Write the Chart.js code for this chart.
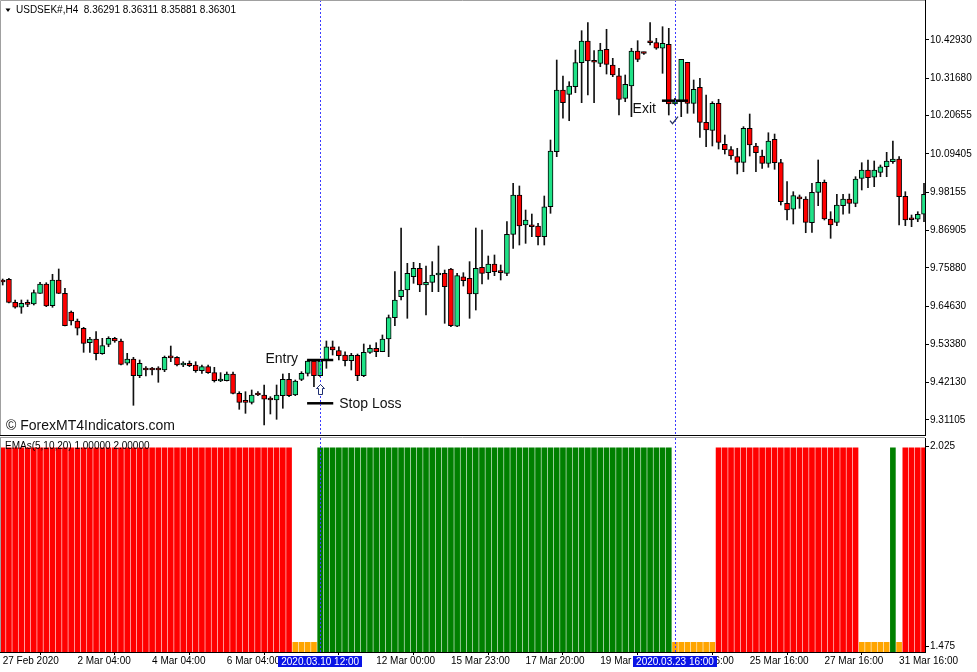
<!DOCTYPE html>
<html>
<head>
<meta charset="utf-8">
<script src="https://cdn.jsdelivr.net/npm/chart.js@4.4.1/dist/chart.umd.min.js"></script>
<style>
html, body { margin: 0; padding: 0; background: #fff; }
#wrap { position: relative; width: 977px; height: 672px; overflow: hidden; }
#main { position: absolute; left: 0; top: 0; }
#ind { position: absolute; left: 0; top: 436px; }
</style>
</head>
<body>
<div id="wrap">
  <canvas id="main" width="977" height="437"></canvas>
  <canvas id="ind" width="977" height="236"></canvas>
</div>
<script>
// USDSEK H4 candles, bar 0 = 27 Feb 2020 00:00
var opens = [
  9.7186, 9.7251, 9.6574, 9.6427, 9.6545, 9.6524, 9.6838, 9.7112, 9.6474, 9.7230,
  9.6838, 9.6289, 9.6024, 9.5809, 9.5385, 9.5494, 9.5061, 9.5338, 9.5514, 9.5435,
  9.4779, 9.4905, 9.4414, 9.4632, 9.4602, 9.4602, 9.4582, 9.4955, 9.4955, 9.4729,
  9.4779, 9.4729, 9.4562, 9.4679, 9.4503, 9.4258, 9.4267, 9.4464, 9.3896, 9.3649,
  9.3631, 9.3896, 9.3846, 9.3708, 9.3699, 9.3826, 9.4308, 9.3846, 9.4308, 9.4484,
  9.4847, 9.4414, 9.4876, 9.5267, 9.5150, 9.5023, 9.4855, 9.5014, 9.4414, 9.5102,
  9.5220, 9.5120, 9.5494, 9.6121, 9.6739, 9.6936, 9.7327, 9.7574, 9.7083, 9.7162,
  9.7377, 9.7427, 9.7554, 9.5868, 9.7327, 9.7280, 9.6818, 9.7604, 9.7445, 9.7701,
  9.7495, 9.7427, 9.8575, 9.9732, 9.8849, 9.8810, 9.8820, 9.8505, 9.9387, 10.1006,
  10.2821, 10.2695, 10.2919, 10.3625, 10.4263, 10.3675, 10.3607, 10.4019, 10.3557, 10.3242,
  10.2577, 10.2939, 10.3969, 10.3910, 10.4225, 10.4214, 10.4049, 10.4166, 10.2410, 10.2477,
  10.3637, 10.2430, 10.2901, 10.1871, 10.1635, 10.2430, 10.1223, 10.1065, 10.0859, 10.0694,
  10.1694, 10.1174, 10.0879, 10.0664, 10.1370, 10.0682, 9.9487, 9.9311, 9.9634, 9.9614,
  9.8916, 9.9811, 10.0105, 9.9026, 9.8928, 9.9417, 9.9614, 9.9487, 10.0223, 10.0467,
  10.0253, 10.0399, 10.0564, 10.0712, 10.0791, 9.9693, 9.9017, 9.9017, 9.9164
];
var highs = [
  9.7259, 9.7280, 9.6642, 9.6642, 9.6642, 9.6936, 9.7162, 9.7151, 9.7398, 9.7554,
  9.6986, 9.6318, 9.6082, 9.5838, 9.5544, 9.5709, 9.5514, 9.5561, 9.5544, 9.5494,
  9.5073, 9.4955, 9.4876, 9.4679, 9.4661, 9.4679, 9.4993, 9.5287, 9.4973, 9.4826,
  9.4847, 9.4826, 9.4729, 9.4729, 9.4661, 9.4503, 9.4523, 9.4523, 9.3943, 9.3943,
  9.3993, 9.3943, 9.4140, 9.3796, 9.4140, 9.4464, 9.4484, 9.4287, 9.4532, 9.4876,
  9.4876, 9.4896, 9.5435, 9.5435, 9.5267, 9.5120, 9.5073, 9.5052, 9.5347, 9.5317,
  9.5385, 9.5612, 9.6200, 9.7476, 9.8760, 9.7721, 9.7751, 9.7721, 9.7642, 9.7770,
  9.8231, 9.7524, 9.7574, 9.7427, 9.7445, 9.7770, 9.8760, 9.8702, 9.7937, 9.7966,
  9.7672, 9.8946, 10.0076, 9.9997, 9.9290, 9.9172, 9.8899, 9.9702, 10.1350, 10.3704,
  10.3234, 10.3066, 10.3999, 10.4567, 10.4802, 10.3978, 10.4196, 10.4608, 10.3754, 10.3460,
  10.3263, 10.4049, 10.4273, 10.3940, 10.4802, 10.4343, 10.4684, 10.4637, 10.2577, 10.3725,
  10.3637, 10.3116, 10.3166, 10.2674, 10.2477, 10.2548, 10.1497, 10.1153, 10.1106, 10.1742,
  10.2115, 10.1253, 10.1056, 10.1564, 10.1526, 10.0782, 10.0123, 9.9829, 9.9732, 9.9682,
  10.0076, 10.0762, 10.0173, 9.9240, 9.9752, 9.9752, 9.9761, 10.0270, 10.0682, 10.0762,
  10.0732, 10.0614, 10.0988, 10.1320, 10.0859, 9.9829, 9.9143, 9.9240, 10.0076
];
var lows = [
  9.7083, 9.6553, 9.6398, 9.6250, 9.6445, 9.6495, 9.6838, 9.6445, 9.6427, 9.6830,
  9.5877, 9.5906, 9.5612, 9.5102, 9.5102, 9.4876, 9.5043, 9.5267, 9.5397, 9.4729,
  9.4729, 9.3543, 9.4355, 9.4405, 9.4435, 9.4220, 9.4532, 9.4826, 9.4700, 9.4679,
  9.4679, 9.4514, 9.4484, 9.4484, 9.4228, 9.4238, 9.4258, 9.3876, 9.3425, 9.3307,
  9.3581, 9.3826, 9.2963, 9.3287, 9.3131, 9.3455, 9.3796, 9.3826, 9.4267, 9.4405,
  9.4091, 9.4385, 9.4632, 9.5023, 9.4876, 9.4700, 9.4582, 9.4267, 9.4385, 9.5073,
  9.4973, 9.5120, 9.4973, 9.5886, 9.6642, 9.6103, 9.7133, 9.6886, 9.6200, 9.6886,
  9.6886, 9.5956, 9.5856, 9.5856, 9.7053, 9.6103, 9.6347, 9.7112, 9.7251, 9.7357,
  9.7230, 9.7357, 9.8163, 9.8260, 9.8309, 9.8505, 9.8260, 9.8260, 9.9193, 10.0859,
  10.1989, 10.1918, 10.2742, 10.2448, 10.2674, 10.2448, 10.3507, 10.3292, 10.3213, 10.2086,
  10.2477, 10.2036, 10.3654, 10.3866, 10.4146, 10.4019, 10.3313, 10.2086, 10.2380, 10.2036,
  10.2136, 10.2136, 10.1429, 10.1153, 10.1174, 10.1085, 10.0938, 10.0782, 10.0350, 10.0417,
  10.0879, 10.0417, 10.0517, 10.0547, 10.0488, 9.9437, 9.8996, 9.8878, 9.9340, 9.8622,
  9.8634, 9.9417, 9.8996, 9.8457, 9.8829, 9.9164, 9.9193, 9.9387, 9.9879, 9.9947,
  9.9976, 10.0270, 10.0270, 10.0664, 9.8849, 9.8829, 9.8799, 9.8946, 9.8946
];
var closes = [
  9.7171, 9.6574, 9.6427, 9.6545, 9.6515, 9.6857, 9.7112, 9.6465, 9.7230, 9.6838,
  9.5886, 9.6024, 9.5809, 9.5367, 9.5494, 9.5061, 9.5297, 9.5514, 9.5435, 9.4749,
  9.4905, 9.4414, 9.4779, 9.4582, 9.4582, 9.4582, 9.4955, 9.4940, 9.4729, 9.4779,
  9.4709, 9.4562, 9.4679, 9.4503, 9.4267, 9.4287, 9.4464, 9.3896, 9.3631, 9.3631,
  9.3846, 9.3846, 9.3720, 9.3699, 9.3846, 9.4308, 9.3826, 9.4258, 9.4484, 9.4847,
  9.4414, 9.4847, 9.5267, 9.5170, 9.5002, 9.4855, 9.5014, 9.4414, 9.5102, 9.5220,
  9.5120, 9.5494, 9.6121, 9.6642, 9.6936, 9.7427, 9.7574, 9.7083, 9.7162, 9.7377,
  9.7427, 9.7033, 9.5886, 9.7357, 9.7210, 9.6818, 9.7574, 9.7427, 9.7701, 9.7475,
  9.7445, 9.8575, 9.9732, 9.8820, 9.8996, 9.8796, 9.8505, 9.9387, 10.1026, 10.2821,
  10.2448, 10.2939, 10.3625, 10.4263, 10.3675, 10.3637, 10.3999, 10.3578, 10.3263, 10.2548,
  10.2989, 10.3969, 10.3725, 10.3896, 10.4211, 10.4049, 10.4196, 10.2410, 10.2477, 10.3725,
  10.2430, 10.2842, 10.1871, 10.1644, 10.2430, 10.1282, 10.1065, 10.0879, 10.0694, 10.1694,
  10.1203, 10.0977, 10.0664, 10.1320, 10.0682, 9.9534, 9.9290, 9.9711, 9.9619, 9.8928,
  9.9811, 10.0105, 9.9026, 9.8849, 9.9437, 9.9614, 9.9487, 10.0202, 10.0467, 10.0241,
  10.0467, 10.0564, 10.0732, 10.0791, 9.9682, 9.8996, 9.9002, 9.9164, 9.9752
];

// EMAs(5,10,20) histogram: trend 1 = up (green), -1 = down (red), 0 = mixed (orange)
var emaTrend = [
  -1,-1,-1,-1,-1,-1,-1,-1,-1,-1, -1,-1,-1,-1,-1,-1,-1,-1,-1,-1,
  -1,-1,-1,-1,-1,-1,-1,-1,-1,-1, -1,-1,-1,-1,-1,-1,-1,-1,-1,-1,
  -1,-1,-1,-1,-1,-1,-1, 0, 0, 0,  0, 1, 1, 1, 1, 1, 1, 1, 1, 1,
   1, 1, 1, 1, 1, 1, 1, 1, 1, 1,  1, 1, 1, 1, 1, 1, 1, 1, 1, 1,
   1, 1, 1, 1, 1, 1, 1, 1, 1, 1,  1, 1, 1, 1, 1, 1, 1, 1, 1, 1,
   1, 1, 1, 1, 1, 1, 1, 1, 0, 0,  0, 0, 0, 0, 0,-1,-1,-1,-1,-1,
  -1,-1,-1,-1,-1,-1,-1,-1,-1,-1, -1,-1,-1,-1,-1,-1,-1,-1, 0, 0,
   0, 0, 0, 1, 0,-1,-1,-1,-1
];
var emaLevel = [
  2,2,2,2,2,2,2,2,2,2, 2,2,2,2,2,2,2,2,2,2,
  2,2,2,2,2,2,2,2,2,2, 2,2,2,2,2,2,2,2,2,2,
  2,2,2,2,2,2,2,1.5,1.5,1.5, 1.5,2,2,2,2,2,2,2,2,2,
  2,2,2,2,2,2,2,2,2,2, 2,2,2,2,2,2,2,2,2,2,
  2,2,2,2,2,2,2,2,2,2, 2,2,2,2,2,2,2,2,2,2,
  2,2,2,2,2,2,2,2,1.5,1.5, 1.5,1.5,1.5,1.5,1.5,2,2,2,2,2,
  2,2,2,2,2,2,2,2,2,2, 2,2,2,2,2,2,2,2,1.5,1.5,
  1.5,1.5,1.5,2,1.5,2,2,2,2
];

var priceTicks = [9.31105, 9.42130, 9.53380, 9.64630, 9.75880, 9.86905, 9.98155, 10.09405, 10.20655, 10.31680, 10.42930];
var priceMin = 9.26688, priceMax = 10.54701;
var emaMin = 1.475, emaMax = 2.025;

var timeBars = [0, 12, 24, 36, 48, 60, 72, 84, 96, 108, 120, 132, 144];
var timeLabels = ['27 Feb 2020', '2 Mar 04:00', '4 Mar 04:00', '6 Mar 04:00', '10 Mar 08:00', '12 Mar 00:00',
  '15 Mar 23:00', '17 Mar 20:00', '19 Mar 20:00', '23 Mar 16:00', '25 Mar 16:00', '27 Mar 16:00', '31 Mar 16:00'];

var entryBar = 51, exitBar = 108;
var entryPrice = 9.4876, stopPrice = 9.3602, exitPrice = 10.2507;
var entrySpan = [48.9, 53.1], exitSpan = [105.9, 110.1];
var markerTimes = ['2020.03.10 12:00', '2020.03.23 16:00'];

var xMin = -0.434, xMax = 148.16;
var FONT = '"Liberation Sans", Arial, sans-serif';
var UP = '#1fe287', DOWN = '#ff0000';

Chart.defaults.font.family = FONT;
Chart.defaults.font.size = 10;
Chart.defaults.color = '#000';

var bars = opens.map(function (o, i) { return i; });

function dottedLines(chart, top, bottom) {
  var ctx = chart.ctx, x = chart.scales.x;
  ctx.save();
  ctx.strokeStyle = '#3b3bff';
  ctx.lineWidth = 1;
  ctx.setLineDash([2, 2]);
  [entryBar, exitBar].forEach(function (b) {
    var px = Math.round(x.getPixelForValue(b)) + 0.5;
    ctx.beginPath(); ctx.moveTo(px, top); ctx.lineTo(px, bottom); ctx.stroke();
  });
  ctx.restore();
}

var mainDecor = {
  id: 'mainDecor',
  afterDraw: function (chart) {
    var ctx = chart.ctx, a = chart.chartArea, x = chart.scales.x, y = chart.scales.y;
    dottedLines(chart, a.top, a.bottom);
    ctx.save();
    ctx.lineWidth = 1;
    ctx.strokeStyle = '#a0a0a0';
    ctx.beginPath(); ctx.moveTo(0.5, a.bottom); ctx.lineTo(0.5, 0.5); ctx.lineTo(a.right, 0.5); ctx.stroke();
    ctx.strokeStyle = '#000';
    ctx.beginPath(); ctx.moveTo(0, a.bottom + 0.5); ctx.lineTo(a.right + 1, a.bottom + 0.5); ctx.stroke();

    // header
    ctx.fillStyle = '#000';
    ctx.beginPath(); ctx.moveTo(5.5, 8.5); ctx.lineTo(10.5, 8.5); ctx.lineTo(8, 12); ctx.closePath(); ctx.fill();
    ctx.font = '10px ' + FONT;
    ctx.textBaseline = 'middle';
    ctx.textAlign = 'left';
    ctx.fillText('USDSEK#,H4  8.36291 8.36311 8.35881 8.36301', 16, 10.5);

    // trade annotations
    ctx.font = '14px ' + FONT;
    ctx.textBaseline = 'alphabetic';
    ctx.fillStyle = '#111';
    ctx.textAlign = 'right';
    ctx.fillText('Entry', x.getPixelForValue(entrySpan[0]) - 9, y.getPixelForValue(entryPrice) + 3);
    ctx.fillText('Exit', x.getPixelForValue(exitSpan[0]) - 6, y.getPixelForValue(exitPrice) + 12);
    ctx.textAlign = 'left';
    ctx.fillText('Stop Loss', x.getPixelForValue(entrySpan[1]) + 6, y.getPixelForValue(stopPrice) + 5);
    ctx.fillText('\u00A9 ForexMT4Indicators.com', 6, a.bottom - 5);

    // buy arrow under the entry bar
    var cx = Math.round(x.getPixelForValue(entryBar)) + 0.5;
    var cy = Math.round(y.getPixelForValue(entryPrice) + 29) + 0.5;
    ctx.beginPath();
    ctx.moveTo(cx, cy - 5);
    ctx.lineTo(cx + 4, cy - 1);
    ctx.lineTo(cx + 2, cy - 1);
    ctx.lineTo(cx + 2, cy + 5);
    ctx.lineTo(cx - 2, cy + 5);
    ctx.lineTo(cx - 2, cy - 1);
    ctx.lineTo(cx - 4, cy - 1);
    ctx.closePath();
    ctx.fillStyle = '#fff';
    ctx.fill();
    ctx.strokeStyle = '#1f2f70';
    ctx.lineWidth = 1;
    ctx.stroke();

    // check mark under the exit bar
    var kx = x.getPixelForValue(exitBar) - 1;
    var ky = y.getPixelForValue(exitPrice) + 20;
    ctx.beginPath();
    ctx.moveTo(kx - 4, ky);
    ctx.lineTo(kx - 1.5, ky + 3);
    ctx.lineTo(kx + 4, ky - 4);
    ctx.strokeStyle = '#2a3560';
    ctx.lineWidth = 1.3;
    ctx.stroke();
    ctx.restore();
  }
};

var indDecor = {
  id: 'indDecor',
  afterDraw: function (chart) {
    var ctx = chart.ctx, a = chart.chartArea, x = chart.scales.x;
    dottedLines(chart, a.top, a.bottom);
    ctx.save();
    ctx.lineWidth = 1;
    ctx.strokeStyle = '#a0a0a0';
    ctx.beginPath(); ctx.moveTo(0, 1.5); ctx.lineTo(a.right, 1.5); ctx.stroke();
    ctx.beginPath(); ctx.moveTo(0.5, a.top); ctx.lineTo(0.5, a.bottom); ctx.stroke();

    ctx.fillStyle = '#000';
    ctx.font = '10px ' + FONT;
    ctx.textBaseline = 'middle';
    ctx.textAlign = 'left';
    ctx.fillText('EMAs(5,10,20) 1.00000 2.00000', 5, a.top + 8);

    // min / max labels of the sub window
    ctx.strokeStyle = '#000';
    ctx.beginPath();
    ctx.moveTo(a.right, a.top + 8.5); ctx.lineTo(a.right + 4, a.top + 8.5);
    ctx.moveTo(a.right, a.bottom - 5.5); ctx.lineTo(a.right + 4, a.bottom - 5.5);
    ctx.stroke();
    ctx.fillText(emaMax.toFixed(3), a.right + 5, a.top + 8.5);
    ctx.fillText(emaMin.toFixed(3), a.right + 5, a.bottom - 5.5);

    // time markers of the vertical lines
    ctx.textAlign = 'center';
    [entryBar, exitBar].forEach(function (b, k) {
      var px = x.getPixelForValue(b);
      ctx.fillStyle = '#0a14e6';
      ctx.fillRect(Math.round(px - 42), a.bottom + 4, 84, 11);
      ctx.fillStyle = '#fff';
      ctx.fillText(markerTimes[k], px, a.bottom + 10);
    });
    ctx.restore();
  }
};

var xScale = {
  type: 'linear', min: xMin, max: xMax, offset: false
};

new Chart(document.getElementById('main'), {
  type: 'bar',
  data: {
    datasets: [{
      label: 'body',
      order: 1,
      data: bars.map(function (i) { return { x: i, y: [opens[i], closes[i]] }; }),
      backgroundColor: function (c) { var i = c.dataIndex; return closes[i] >= opens[i] ? UP : DOWN; },
      borderColor: '#000',
      borderWidth: 1,
      borderSkipped: false,
      barThickness: 5,
      minBarLength: 2,
      grouped: false
    }, {
      label: 'wick',
      order: 2,
      data: bars.map(function (i) { return { x: i, y: [lows[i], highs[i]] }; }),
      backgroundColor: '#111',
      borderWidth: 0,
      barThickness: 1,
      grouped: false
    }, {
      type: 'line', label: 'entry', order: 0,
      data: [{ x: entrySpan[0], y: entryPrice }, { x: entrySpan[1], y: entryPrice }],
      borderColor: '#000', borderWidth: 2.5, pointRadius: 0
    }, {
      type: 'line', label: 'stop', order: 0,
      data: [{ x: entrySpan[0], y: stopPrice }, { x: entrySpan[1], y: stopPrice }],
      borderColor: '#000', borderWidth: 2.5, pointRadius: 0
    }, {
      type: 'line', label: 'exit', order: 0,
      data: [{ x: exitSpan[0], y: exitPrice }, { x: exitSpan[1], y: exitPrice }],
      borderColor: '#000', borderWidth: 2.5, pointRadius: 0
    }]
  },
  options: {
    responsive: false,
    animation: false,
    events: [],
    layout: { padding: { left: 0, right: 0, top: 0, bottom: 2 } },
    plugins: { legend: { display: false }, tooltip: { enabled: false } },
    scales: {
      x: Object.assign({ display: false }, xScale),
      y: {
        position: 'right',
        min: priceMin,
        max: priceMax,
        afterBuildTicks: function (s) { s.ticks = priceTicks.map(function (v) { return { value: v }; }); },
        afterFit: function (s) { s.width = 52; s.paddingTop = 0; s.paddingBottom = 0; },
        ticks: { padding: 1, font: { size: 10 }, color: '#000', callback: function (v) { return v.toFixed(5); } },
        grid: { drawOnChartArea: false, drawTicks: true, tickLength: 4, color: '#000' },
        border: { display: true, color: '#000' }
      }
    }
  },
  plugins: [mainDecor]
});

new Chart(document.getElementById('ind'), {
  type: 'bar',
  data: {
    datasets: [{
      label: 'EMAs',
      data: bars.map(function (i) { return { x: i, y: emaLevel[i] }; }),
      backgroundColor: function (c) {
        var t = emaTrend[c.dataIndex];
        return t > 0 ? '#008000' : (t < 0 ? '#ff0000' : '#ffa500');
      },
      borderWidth: 0,
      barThickness: 5,
      grouped: false
    }]
  },
  options: {
    responsive: false,
    animation: false,
    events: [],
    layout: { padding: { left: 0, right: 0, top: 2, bottom: 0 } },
    plugins: { legend: { display: false }, tooltip: { enabled: false } },
    scales: {
      x: Object.assign({
        position: 'bottom',
        afterBuildTicks: function (s) { s.ticks = timeBars.map(function (v) { return { value: v }; }); },
        afterFit: function (s) { s.height = 20; s.paddingLeft = 0; s.paddingRight = 0; },
        ticks: {
          autoSkip: false, maxRotation: 0, minRotation: 0, align: 'start', padding: 0,
          font: { size: 10 }, color: '#000',
          callback: function (v, idx) { return timeLabels[idx]; }
        },
        grid: { drawOnChartArea: false, drawTicks: true, tickLength: 3, color: '#000' },
        border: { display: true, color: '#000' }
      }, xScale),
      y: {
        position: 'right',
        min: emaMin,
        max: emaMax,
        afterFit: function (s) { s.width = 52; s.paddingTop = 0; s.paddingBottom = 0; },
        ticks: { display: false },
        grid: { display: false },
        border: { display: true, color: '#000' }
      }
    }
  },
  plugins: [indDecor]
});
</script>
</body>
</html>
